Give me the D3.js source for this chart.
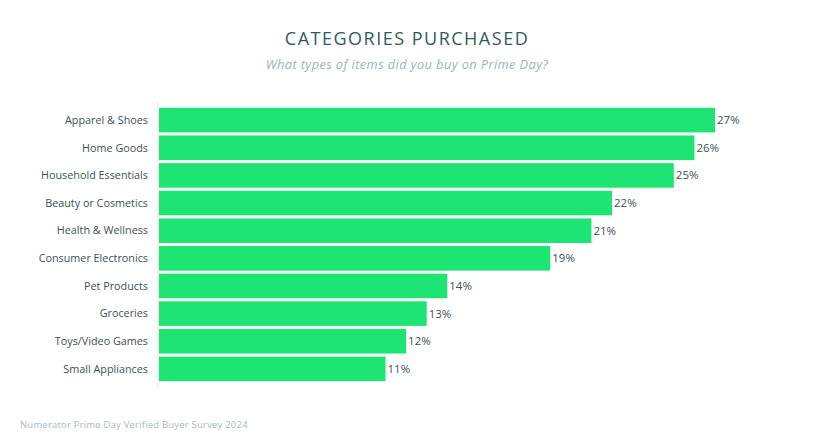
<!DOCTYPE html>
<html>
<head>
<meta charset="utf-8">
<script src="https://cdn.jsdelivr.net/npm/d3@7"></script>
<style>
  body { margin: 0; background: #fff; }
  svg { font-family: "Open Sans", "Noto Sans", sans-serif; }
</style>
</head>
<body>
<div id="chart"></div>
<script>
// data
const categories = ["Apparel & Shoes", "Home Goods", "Household Essentials", "Beauty or Cosmetics",
  "Health & Wellness", "Consumer Electronics", "Pet Products", "Groceries", "Toys/Video Games", "Small Appliances"];
const values = [27, 26, 25, 22, 21, 19, 14, 13, 12, 11];

const width = 830, height = 445;
const margin = {left: 159, top: 107, right: 20, bottom: 63};

const svg = d3.select("#chart").append("svg")
  .attr("width", width)
  .attr("height", height);

// scales
const x = d3.scaleLinear()
  .domain([0, 27])
  .range([margin.left, 715]);

const y = d3.scaleBand()
  .domain(categories)
  .range([margin.top, 382])
  .paddingInner(0.11)
  .paddingOuter(0.03);

// title
svg.append("text")
  .attr("x", 407).attr("y", 45)
  .attr("text-anchor", "middle")
  .style("font-size", "18px")
  .style("font-weight", 500)
  .style("letter-spacing", "1.5px")
  .style("fill", "#35585e")
  .text("CATEGORIES PURCHASED");

svg.append("text")
  .attr("x", 407).attr("y", 69)
  .attr("text-anchor", "middle")
  .style("font-size", "12.8px")
  .style("font-style", "italic")
  .style("letter-spacing", "0.4px")
  .style("fill", "#9db3b8")
  .text("What types of items did you buy on Prime Day?");

// axis line
svg.append("line")
  .attr("x1", margin.left - 1).attr("x2", margin.left - 1)
  .attr("y1", 101).attr("y2", 388)
  .attr("stroke", "#e6eaea")
  .attr("stroke-width", 1);

// bars
svg.append("g")
  .selectAll("rect")
  .data(values)
  .join("rect")
    .attr("x", x(0))
    .attr("y", (d, i) => y(categories[i]))
    .attr("width", d => x(d) - x(0))
    .attr("height", y.bandwidth())
    .attr("fill", "#1de472");

// value labels
svg.append("g")
  .selectAll("text")
  .data(values)
  .join("text")
    .attr("x", d => x(d) + 2)
    .attr("y", (d, i) => y(categories[i]) + y.bandwidth() / 2)
    .attr("dy", "0.35em")
    .style("font-size", "11.5px")
    .style("fill", "#3e4f57")
    .text(d => d + "%");

// category labels
svg.append("g")
  .selectAll("text")
  .data(categories)
  .join("text")
    .attr("x", 148)
    .attr("y", d => y(d) + y.bandwidth() / 2)
    .attr("dy", "0.35em")
    .attr("text-anchor", "end")
    .style("font-size", "10.8px")
    .style("fill", "#3e4f57")
    .text(d => d);

// source
svg.append("text")
  .attr("x", 20).attr("y", 428)
  .style("font-size", "9.5px")
  .style("letter-spacing", "0.2px")
  .style("fill", "#a9b8bc")
  .text("Numerator Prime Day Verified Buyer Survey 2024");
</script>
</body>
</html>
